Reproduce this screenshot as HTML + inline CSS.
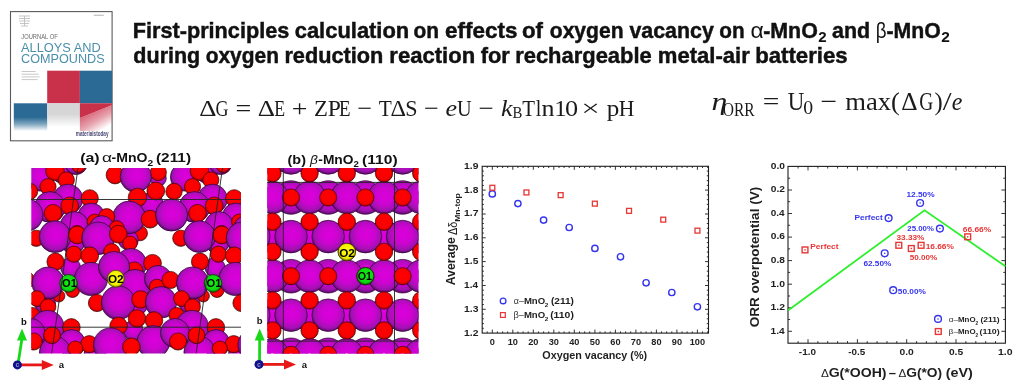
<!DOCTYPE html><html><head><meta charset="utf-8"><style>
html,body{margin:0;padding:0;background:#fff;width:1024px;height:390px;overflow:hidden;position:relative}svg{will-change:transform}
.t{position:absolute;font-family:"Liberation Sans",sans-serif;font-weight:bold;color:#111;white-space:nowrap}
.eq{position:absolute;font-family:"Liberation Serif",serif;color:#222;white-space:nowrap}
</style></head><body>
<svg style="position:absolute;left:0;top:0" width="130" height="150" viewBox="0 0 130 150">
<defs>
<linearGradient id="cvb" x1="0" y1="103.3" x2="0" y2="131" gradientUnits="userSpaceOnUse"><stop offset="0" stop-color="#2a6a94"/><stop offset="0.5" stop-color="#2a6a94"/><stop offset="0.75" stop-color="#2a6a94" stop-opacity="0.6"/><stop offset="1" stop-color="#2a6a94" stop-opacity="0"/></linearGradient>
<linearGradient id="cvg" x1="0" y1="103.3" x2="0" y2="127" gradientUnits="userSpaceOnUse"><stop offset="0" stop-color="#d6d6d6"/><stop offset="0.45" stop-color="#d6d6d6"/><stop offset="1" stop-color="#d6d6d6" stop-opacity="0"/></linearGradient>
<linearGradient id="cvr" x1="93" y1="110" x2="104" y2="129" gradientUnits="userSpaceOnUse"><stop offset="0" stop-color="#c9304a" stop-opacity="0.75"/><stop offset="0.5" stop-color="#c9304a" stop-opacity="0.45"/><stop offset="1" stop-color="#c9304a" stop-opacity="0"/></linearGradient>
</defs>
<rect x="10.5" y="11.6" width="101.6" height="129.2" fill="#fff" stroke="#5a5a5a" stroke-width="1.1"/>
<g stroke="#b8b8b8" stroke-width="0.8" fill="none"><path d="M19 16h11M19 18.5h11M19 21h11M20 23.5h9M21 26h7"/><path d="M24.5 16v10"/></g>
<rect x="93.8" y="14.6" width="10" height="1.4" fill="#c8c8c8"/>
<text x="21.3" y="39.2" font-family="Liberation Sans" font-size="6.3" fill="#6a6a6a" textLength="36.4" lengthAdjust="spacingAndGlyphs">JOURNAL OF</text>
<text x="21.0" y="51.5" font-family="Liberation Sans" font-size="13.7" fill="#4b90ab" textLength="79.8" lengthAdjust="spacingAndGlyphs">ALLOYS AND</text>
<text x="21.0" y="63.1" font-family="Liberation Sans" font-size="13.0" fill="#4b90ab" textLength="83.6" lengthAdjust="spacingAndGlyphs">COMPOUNDS</text>
<g fill="#c8c8c8"><rect x="21.6" y="71" width="14" height="1"/><rect x="21.6" y="73.7" width="17" height="1"/><rect x="21.6" y="76.4" width="18" height="1"/><rect x="21.6" y="79.1" width="16" height="1"/></g>
<rect x="47.2" y="70.7" width="32.7" height="32.6" fill="#c9304a"/>
<rect x="79.9" y="70.7" width="32.2" height="32.6" fill="#2a6a94"/>
<rect x="13.8" y="103.3" width="33.4" height="30.5" fill="url(#cvb)"/>
<rect x="47.2" y="103.3" width="32.7" height="28" fill="url(#cvg)"/>
<polygon points="79.9,103.3 112.1,103.3 112.1,105 79.9,118" fill="#c9304a"/>
<polygon points="79.9,118 112.1,105 112.1,131 79.9,131" fill="url(#cvr)"/>
<text x="75.8" y="136.3" font-family="Liberation Sans" font-weight="bold" font-size="7.2" fill="#4a4a74" textLength="32.7" lengthAdjust="spacingAndGlyphs">materialstoday</text>
</svg>
<svg style="position:absolute;left:0;top:0" width="1024" height="390" viewBox="0 0 1024 390">
<defs>
<radialGradient id="gP" cx="0.52" cy="0.45" r="0.55"><stop offset="0" stop-color="#dc00dc"/><stop offset="0.5" stop-color="#cc04d0"/><stop offset="0.82" stop-color="#a012b0"/><stop offset="1" stop-color="#5c0a6c"/></radialGradient>
<radialGradient id="gR" cx="0.5" cy="0.45" r="0.55"><stop offset="0" stop-color="#ff0000"/><stop offset="0.7" stop-color="#fa0000"/><stop offset="0.9" stop-color="#d40000"/><stop offset="1" stop-color="#820000"/></radialGradient>
<radialGradient id="gG" cx="0.5" cy="0.45" r="0.55"><stop offset="0" stop-color="#10f010"/><stop offset="0.75" stop-color="#10d810"/><stop offset="1" stop-color="#086008"/></radialGradient>
<radialGradient id="gY" cx="0.5" cy="0.45" r="0.55"><stop offset="0" stop-color="#ffff10"/><stop offset="0.75" stop-color="#f0f000"/><stop offset="1" stop-color="#707000"/></radialGradient>
</defs>
<clipPath id="ca"><rect x="31.3" y="168" width="209.7" height="185.6"/></clipPath>
<g clip-path="url(#ca)">
<g transform="translate(0,0)">
<circle cx="95.0" cy="354.0" r="11" fill="url(#gP)" stroke="#300030" stroke-width="0.7"/>
<circle cx="62.0" cy="172.0" r="11" fill="url(#gP)" stroke="#300030" stroke-width="0.7"/>
<circle cx="76.0" cy="163.0" r="11.5" fill="url(#gP)" stroke="#300030" stroke-width="0.7"/>
<circle cx="158.3" cy="178.3" r="8" fill="url(#gP)" stroke="#300030" stroke-width="0.7"/>
<circle cx="151.5" cy="204.4" r="12" fill="url(#gP)" stroke="#300030" stroke-width="0.7"/>
<circle cx="73.0" cy="241.7" r="12" fill="url(#gP)" stroke="#300030" stroke-width="0.7"/>
<circle cx="140.0" cy="233.3" r="7.5" fill="url(#gR)" stroke="#400000" stroke-width="0.7"/>
<circle cx="128.3" cy="240.0" r="10" fill="url(#gP)" stroke="#300030" stroke-width="0.7"/>
<circle cx="70.5" cy="267.5" r="10" fill="url(#gP)" stroke="#300030" stroke-width="0.7"/>
<circle cx="45.0" cy="303.0" r="10.5" fill="url(#gP)" stroke="#300030" stroke-width="0.7"/>
<circle cx="58.9" cy="296.0" r="6" fill="url(#gR)" stroke="#400000" stroke-width="0.7"/>
<circle cx="72.5" cy="290.5" r="7" fill="url(#gR)" stroke="#400000" stroke-width="0.7"/>
<circle cx="137.0" cy="304.0" r="11" fill="url(#gP)" stroke="#300030" stroke-width="0.7"/>
<circle cx="133.2" cy="330.5" r="10" fill="url(#gP)" stroke="#300030" stroke-width="0.7"/>
<circle cx="40.0" cy="177.0" r="14.1" fill="url(#gP)" stroke="#300030" stroke-width="0.7"/>
<circle cx="55.0" cy="171.0" r="9.4" fill="url(#gR)" stroke="#400000" stroke-width="0.7"/>
<circle cx="66.3" cy="180.0" r="8.1" fill="url(#gR)" stroke="#400000" stroke-width="0.7"/>
<circle cx="78.5" cy="166.0" r="6.6" fill="url(#gR)" stroke="#400000" stroke-width="0.7"/>
<circle cx="48.0" cy="186.7" r="8.1" fill="url(#gR)" stroke="#400000" stroke-width="0.7"/>
<circle cx="29.5" cy="191.5" r="8.2" fill="url(#gR)" stroke="#400000" stroke-width="0.7"/>
<circle cx="68.0" cy="199.0" r="14.799999999999999" fill="url(#gP)" stroke="#300030" stroke-width="0.7"/>
<circle cx="50.0" cy="207.0" r="15.4" fill="url(#gP)" stroke="#300030" stroke-width="0.7"/>
<circle cx="69.7" cy="205.8" r="8.9" fill="url(#gR)" stroke="#400000" stroke-width="0.7"/>
<circle cx="89.7" cy="198.3" r="8.6" fill="url(#gR)" stroke="#400000" stroke-width="0.7"/>
<circle cx="53.0" cy="213.3" r="8.9" fill="url(#gR)" stroke="#400000" stroke-width="0.7"/>
<circle cx="27.0" cy="215.0" r="16.1" fill="url(#gP)" stroke="#300030" stroke-width="0.7"/>
<circle cx="91.3" cy="216.7" r="13.6" fill="url(#gP)" stroke="#300030" stroke-width="0.7"/>
<circle cx="74.5" cy="226.0" r="14.4" fill="url(#gP)" stroke="#300030" stroke-width="0.7"/>
<circle cx="94.7" cy="221.7" r="7.6" fill="url(#gR)" stroke="#400000" stroke-width="0.7"/>
<circle cx="77.0" cy="233.0" r="7.6" fill="url(#gR)" stroke="#400000" stroke-width="0.7"/>
<circle cx="115.0" cy="175.0" r="8.9" fill="url(#gR)" stroke="#400000" stroke-width="0.7"/>
<circle cx="158.3" cy="172.5" r="8.1" fill="url(#gR)" stroke="#400000" stroke-width="0.7"/>
<circle cx="135.8" cy="176.7" r="15.6" fill="url(#gP)" stroke="#300030" stroke-width="0.7"/>
<circle cx="155.8" cy="191.0" r="8.9" fill="url(#gR)" stroke="#400000" stroke-width="0.7"/>
<circle cx="137.5" cy="197.5" r="9.299999999999999" fill="url(#gR)" stroke="#400000" stroke-width="0.7"/>
<circle cx="129.0" cy="217.5" r="16.400000000000002" fill="url(#gP)" stroke="#300030" stroke-width="0.7"/>
<circle cx="106.7" cy="216.7" r="8.1" fill="url(#gR)" stroke="#400000" stroke-width="0.7"/>
<circle cx="150.0" cy="219.2" r="8.9" fill="url(#gR)" stroke="#400000" stroke-width="0.7"/>
<circle cx="101.7" cy="228.3" r="12.6" fill="url(#gP)" stroke="#300030" stroke-width="0.7"/>
<circle cx="116.7" cy="228.3" r="7.6" fill="url(#gR)" stroke="#400000" stroke-width="0.7"/>
<circle cx="36.3" cy="238.3" r="8.1" fill="url(#gR)" stroke="#400000" stroke-width="0.7"/>
<circle cx="55.0" cy="236.7" r="15.9" fill="url(#gP)" stroke="#300030" stroke-width="0.7"/>
<circle cx="77.2" cy="235.0" r="8.9" fill="url(#gR)" stroke="#400000" stroke-width="0.7"/>
<circle cx="98.0" cy="238.3" r="16.400000000000002" fill="url(#gP)" stroke="#300030" stroke-width="0.7"/>
<circle cx="73.8" cy="254.2" r="8.1" fill="url(#gR)" stroke="#400000" stroke-width="0.7"/>
<circle cx="89.7" cy="255.8" r="8.9" fill="url(#gR)" stroke="#400000" stroke-width="0.7"/>
<circle cx="55.5" cy="261.7" r="8.6" fill="url(#gR)" stroke="#400000" stroke-width="0.7"/>
<circle cx="26.0" cy="280.0" r="8.6" fill="url(#gR)" stroke="#400000" stroke-width="0.7"/>
<circle cx="48.0" cy="283.0" r="16.1" fill="url(#gP)" stroke="#300030" stroke-width="0.7"/>
<circle cx="91.0" cy="279.0" r="16.6" fill="url(#gP)" stroke="#300030" stroke-width="0.7"/>
<circle cx="118.3" cy="234.2" r="8.9" fill="url(#gR)" stroke="#400000" stroke-width="0.7"/>
<circle cx="130.0" cy="243.3" r="7.3" fill="url(#gR)" stroke="#400000" stroke-width="0.7"/>
<circle cx="111.7" cy="251.7" r="8.1" fill="url(#gR)" stroke="#400000" stroke-width="0.7"/>
<circle cx="131.0" cy="264.0" r="15.6" fill="url(#gP)" stroke="#300030" stroke-width="0.7"/>
<circle cx="152.5" cy="263.3" r="8.9" fill="url(#gR)" stroke="#400000" stroke-width="0.7"/>
<circle cx="134.2" cy="270.8" r="8.9" fill="url(#gR)" stroke="#400000" stroke-width="0.7"/>
<circle cx="114.0" cy="267.0" r="15.6" fill="url(#gP)" stroke="#300030" stroke-width="0.7"/>
<circle cx="135.0" cy="285.0" r="15.6" fill="url(#gP)" stroke="#300030" stroke-width="0.7"/>
<circle cx="158.0" cy="279.0" r="13.6" fill="url(#gP)" stroke="#300030" stroke-width="0.7"/>
<circle cx="37.0" cy="298.6" r="7.8999999999999995" fill="url(#gR)" stroke="#400000" stroke-width="0.7"/>
<circle cx="48.0" cy="306.8" r="7.8999999999999995" fill="url(#gR)" stroke="#400000" stroke-width="0.7"/>
<circle cx="97.0" cy="303.0" r="8.6" fill="url(#gR)" stroke="#400000" stroke-width="0.7"/>
<circle cx="32.0" cy="315.0" r="7.6" fill="url(#gR)" stroke="#400000" stroke-width="0.7"/>
<circle cx="47.5" cy="327.0" r="16.6" fill="url(#gP)" stroke="#300030" stroke-width="0.7"/>
<circle cx="71.4" cy="327.4" r="8.799999999999999" fill="url(#gR)" stroke="#400000" stroke-width="0.7"/>
<circle cx="30.5" cy="333.0" r="14.6" fill="url(#gP)" stroke="#300030" stroke-width="0.7"/>
<circle cx="71.6" cy="343.2" r="13.6" fill="url(#gP)" stroke="#300030" stroke-width="0.7"/>
<circle cx="55.0" cy="352.0" r="15.6" fill="url(#gP)" stroke="#300030" stroke-width="0.7"/>
<circle cx="52.0" cy="335.3" r="8.4" fill="url(#gR)" stroke="#400000" stroke-width="0.7"/>
<circle cx="33.5" cy="341.5" r="8.6" fill="url(#gR)" stroke="#400000" stroke-width="0.7"/>
<circle cx="89.2" cy="344.2" r="8.6" fill="url(#gR)" stroke="#400000" stroke-width="0.7"/>
<circle cx="75.3" cy="348.6" r="7.6" fill="url(#gR)" stroke="#400000" stroke-width="0.7"/>
<circle cx="118.2" cy="302.7" r="16.900000000000002" fill="url(#gP)" stroke="#300030" stroke-width="0.7"/>
<circle cx="140.5" cy="299.5" r="8.799999999999999" fill="url(#gR)" stroke="#400000" stroke-width="0.7"/>
<circle cx="156.8" cy="286.8" r="7.6" fill="url(#gR)" stroke="#400000" stroke-width="0.7"/>
<circle cx="161.0" cy="302.3" r="15.799999999999999" fill="url(#gP)" stroke="#300030" stroke-width="0.7"/>
<circle cx="137.0" cy="318.5" r="8.799999999999999" fill="url(#gR)" stroke="#400000" stroke-width="0.7"/>
<circle cx="154.0" cy="320.5" r="8.799999999999999" fill="url(#gR)" stroke="#400000" stroke-width="0.7"/>
<circle cx="118.6" cy="325.9" r="8.799999999999999" fill="url(#gR)" stroke="#400000" stroke-width="0.7"/>
<circle cx="110.5" cy="345.0" r="17.1" fill="url(#gP)" stroke="#300030" stroke-width="0.7"/>
<circle cx="153.3" cy="342.0" r="16.400000000000002" fill="url(#gP)" stroke="#300030" stroke-width="0.7"/>
<circle cx="131.4" cy="346.8" r="8.799999999999999" fill="url(#gR)" stroke="#400000" stroke-width="0.7"/>
<circle cx="68.5" cy="283.4" r="8.8" fill="url(#gG)" stroke="#043004" stroke-width="0.7"/>
<circle cx="115.8" cy="278.8" r="8.5" fill="url(#gY)" stroke="#404000" stroke-width="0.7"/>
</g>
<g transform="translate(144.5,0)">
<circle cx="95.0" cy="354.0" r="11" fill="url(#gP)" stroke="#300030" stroke-width="0.7"/>
<circle cx="62.0" cy="172.0" r="11" fill="url(#gP)" stroke="#300030" stroke-width="0.7"/>
<circle cx="76.0" cy="163.0" r="11.5" fill="url(#gP)" stroke="#300030" stroke-width="0.7"/>
<circle cx="158.3" cy="178.3" r="8" fill="url(#gP)" stroke="#300030" stroke-width="0.7"/>
<circle cx="151.5" cy="204.4" r="12" fill="url(#gP)" stroke="#300030" stroke-width="0.7"/>
<circle cx="73.0" cy="241.7" r="12" fill="url(#gP)" stroke="#300030" stroke-width="0.7"/>
<circle cx="140.0" cy="233.3" r="7.5" fill="url(#gR)" stroke="#400000" stroke-width="0.7"/>
<circle cx="128.3" cy="240.0" r="10" fill="url(#gP)" stroke="#300030" stroke-width="0.7"/>
<circle cx="70.5" cy="267.5" r="10" fill="url(#gP)" stroke="#300030" stroke-width="0.7"/>
<circle cx="45.0" cy="303.0" r="10.5" fill="url(#gP)" stroke="#300030" stroke-width="0.7"/>
<circle cx="58.9" cy="296.0" r="6" fill="url(#gR)" stroke="#400000" stroke-width="0.7"/>
<circle cx="72.5" cy="290.5" r="7" fill="url(#gR)" stroke="#400000" stroke-width="0.7"/>
<circle cx="137.0" cy="304.0" r="11" fill="url(#gP)" stroke="#300030" stroke-width="0.7"/>
<circle cx="133.2" cy="330.5" r="10" fill="url(#gP)" stroke="#300030" stroke-width="0.7"/>
<circle cx="40.0" cy="177.0" r="14.1" fill="url(#gP)" stroke="#300030" stroke-width="0.7"/>
<circle cx="55.0" cy="171.0" r="9.4" fill="url(#gR)" stroke="#400000" stroke-width="0.7"/>
<circle cx="66.3" cy="180.0" r="8.1" fill="url(#gR)" stroke="#400000" stroke-width="0.7"/>
<circle cx="78.5" cy="166.0" r="6.6" fill="url(#gR)" stroke="#400000" stroke-width="0.7"/>
<circle cx="48.0" cy="186.7" r="8.1" fill="url(#gR)" stroke="#400000" stroke-width="0.7"/>
<circle cx="29.5" cy="191.5" r="8.2" fill="url(#gR)" stroke="#400000" stroke-width="0.7"/>
<circle cx="68.0" cy="199.0" r="14.799999999999999" fill="url(#gP)" stroke="#300030" stroke-width="0.7"/>
<circle cx="50.0" cy="207.0" r="15.4" fill="url(#gP)" stroke="#300030" stroke-width="0.7"/>
<circle cx="69.7" cy="205.8" r="8.9" fill="url(#gR)" stroke="#400000" stroke-width="0.7"/>
<circle cx="89.7" cy="198.3" r="8.6" fill="url(#gR)" stroke="#400000" stroke-width="0.7"/>
<circle cx="53.0" cy="213.3" r="8.9" fill="url(#gR)" stroke="#400000" stroke-width="0.7"/>
<circle cx="27.0" cy="215.0" r="16.1" fill="url(#gP)" stroke="#300030" stroke-width="0.7"/>
<circle cx="91.3" cy="216.7" r="13.6" fill="url(#gP)" stroke="#300030" stroke-width="0.7"/>
<circle cx="74.5" cy="226.0" r="14.4" fill="url(#gP)" stroke="#300030" stroke-width="0.7"/>
<circle cx="94.7" cy="221.7" r="7.6" fill="url(#gR)" stroke="#400000" stroke-width="0.7"/>
<circle cx="77.0" cy="233.0" r="7.6" fill="url(#gR)" stroke="#400000" stroke-width="0.7"/>
<circle cx="115.0" cy="175.0" r="8.9" fill="url(#gR)" stroke="#400000" stroke-width="0.7"/>
<circle cx="158.3" cy="172.5" r="8.1" fill="url(#gR)" stroke="#400000" stroke-width="0.7"/>
<circle cx="135.8" cy="176.7" r="15.6" fill="url(#gP)" stroke="#300030" stroke-width="0.7"/>
<circle cx="155.8" cy="191.0" r="8.9" fill="url(#gR)" stroke="#400000" stroke-width="0.7"/>
<circle cx="137.5" cy="197.5" r="9.299999999999999" fill="url(#gR)" stroke="#400000" stroke-width="0.7"/>
<circle cx="129.0" cy="217.5" r="16.400000000000002" fill="url(#gP)" stroke="#300030" stroke-width="0.7"/>
<circle cx="106.7" cy="216.7" r="8.1" fill="url(#gR)" stroke="#400000" stroke-width="0.7"/>
<circle cx="150.0" cy="219.2" r="8.9" fill="url(#gR)" stroke="#400000" stroke-width="0.7"/>
<circle cx="101.7" cy="228.3" r="12.6" fill="url(#gP)" stroke="#300030" stroke-width="0.7"/>
<circle cx="116.7" cy="228.3" r="7.6" fill="url(#gR)" stroke="#400000" stroke-width="0.7"/>
<circle cx="36.3" cy="238.3" r="8.1" fill="url(#gR)" stroke="#400000" stroke-width="0.7"/>
<circle cx="55.0" cy="236.7" r="15.9" fill="url(#gP)" stroke="#300030" stroke-width="0.7"/>
<circle cx="77.2" cy="235.0" r="8.9" fill="url(#gR)" stroke="#400000" stroke-width="0.7"/>
<circle cx="98.0" cy="238.3" r="16.400000000000002" fill="url(#gP)" stroke="#300030" stroke-width="0.7"/>
<circle cx="73.8" cy="254.2" r="8.1" fill="url(#gR)" stroke="#400000" stroke-width="0.7"/>
<circle cx="89.7" cy="255.8" r="8.9" fill="url(#gR)" stroke="#400000" stroke-width="0.7"/>
<circle cx="55.5" cy="261.7" r="8.6" fill="url(#gR)" stroke="#400000" stroke-width="0.7"/>
<circle cx="26.0" cy="280.0" r="8.6" fill="url(#gR)" stroke="#400000" stroke-width="0.7"/>
<circle cx="48.0" cy="283.0" r="16.1" fill="url(#gP)" stroke="#300030" stroke-width="0.7"/>
<circle cx="91.0" cy="279.0" r="16.6" fill="url(#gP)" stroke="#300030" stroke-width="0.7"/>
<circle cx="118.3" cy="234.2" r="8.9" fill="url(#gR)" stroke="#400000" stroke-width="0.7"/>
<circle cx="130.0" cy="243.3" r="7.3" fill="url(#gR)" stroke="#400000" stroke-width="0.7"/>
<circle cx="111.7" cy="251.7" r="8.1" fill="url(#gR)" stroke="#400000" stroke-width="0.7"/>
<circle cx="131.0" cy="264.0" r="15.6" fill="url(#gP)" stroke="#300030" stroke-width="0.7"/>
<circle cx="152.5" cy="263.3" r="8.9" fill="url(#gR)" stroke="#400000" stroke-width="0.7"/>
<circle cx="134.2" cy="270.8" r="8.9" fill="url(#gR)" stroke="#400000" stroke-width="0.7"/>
<circle cx="114.0" cy="267.0" r="15.6" fill="url(#gP)" stroke="#300030" stroke-width="0.7"/>
<circle cx="135.0" cy="285.0" r="15.6" fill="url(#gP)" stroke="#300030" stroke-width="0.7"/>
<circle cx="158.0" cy="279.0" r="13.6" fill="url(#gP)" stroke="#300030" stroke-width="0.7"/>
<circle cx="37.0" cy="298.6" r="7.8999999999999995" fill="url(#gR)" stroke="#400000" stroke-width="0.7"/>
<circle cx="48.0" cy="306.8" r="7.8999999999999995" fill="url(#gR)" stroke="#400000" stroke-width="0.7"/>
<circle cx="97.0" cy="303.0" r="8.6" fill="url(#gR)" stroke="#400000" stroke-width="0.7"/>
<circle cx="32.0" cy="315.0" r="7.6" fill="url(#gR)" stroke="#400000" stroke-width="0.7"/>
<circle cx="47.5" cy="327.0" r="16.6" fill="url(#gP)" stroke="#300030" stroke-width="0.7"/>
<circle cx="71.4" cy="327.4" r="8.799999999999999" fill="url(#gR)" stroke="#400000" stroke-width="0.7"/>
<circle cx="30.5" cy="333.0" r="14.6" fill="url(#gP)" stroke="#300030" stroke-width="0.7"/>
<circle cx="71.6" cy="343.2" r="13.6" fill="url(#gP)" stroke="#300030" stroke-width="0.7"/>
<circle cx="55.0" cy="352.0" r="15.6" fill="url(#gP)" stroke="#300030" stroke-width="0.7"/>
<circle cx="52.0" cy="335.3" r="8.4" fill="url(#gR)" stroke="#400000" stroke-width="0.7"/>
<circle cx="33.5" cy="341.5" r="8.6" fill="url(#gR)" stroke="#400000" stroke-width="0.7"/>
<circle cx="89.2" cy="344.2" r="8.6" fill="url(#gR)" stroke="#400000" stroke-width="0.7"/>
<circle cx="75.3" cy="348.6" r="7.6" fill="url(#gR)" stroke="#400000" stroke-width="0.7"/>
<circle cx="118.2" cy="302.7" r="16.900000000000002" fill="url(#gP)" stroke="#300030" stroke-width="0.7"/>
<circle cx="140.5" cy="299.5" r="8.799999999999999" fill="url(#gR)" stroke="#400000" stroke-width="0.7"/>
<circle cx="156.8" cy="286.8" r="7.6" fill="url(#gR)" stroke="#400000" stroke-width="0.7"/>
<circle cx="161.0" cy="302.3" r="15.799999999999999" fill="url(#gP)" stroke="#300030" stroke-width="0.7"/>
<circle cx="137.0" cy="318.5" r="8.799999999999999" fill="url(#gR)" stroke="#400000" stroke-width="0.7"/>
<circle cx="154.0" cy="320.5" r="8.799999999999999" fill="url(#gR)" stroke="#400000" stroke-width="0.7"/>
<circle cx="118.6" cy="325.9" r="8.799999999999999" fill="url(#gR)" stroke="#400000" stroke-width="0.7"/>
<circle cx="110.5" cy="345.0" r="17.1" fill="url(#gP)" stroke="#300030" stroke-width="0.7"/>
<circle cx="153.3" cy="342.0" r="16.400000000000002" fill="url(#gP)" stroke="#300030" stroke-width="0.7"/>
<circle cx="131.4" cy="346.8" r="8.799999999999999" fill="url(#gR)" stroke="#400000" stroke-width="0.7"/>
<circle cx="68.5" cy="283.4" r="8.8" fill="url(#gG)" stroke="#043004" stroke-width="0.7"/>
<circle cx="115.8" cy="278.8" r="8.5" fill="url(#gY)" stroke="#404000" stroke-width="0.7"/>
</g>
<g stroke="#222" stroke-width="0.9">
<line x1="31" y1="199.5" x2="241" y2="199.5"/><line x1="31" y1="327.2" x2="241" y2="327.2"/>
<line x1="78" y1="168" x2="51.6" y2="353.7"/>
<line x1="222.5" y1="168" x2="196.1" y2="353.7"/>
</g></g>
</svg>
<svg style="position:absolute;left:0;top:0" width="1024" height="390" viewBox="0 0 1024 390">
<clipPath id="cb"><rect x="267.3" y="168" width="151.2" height="185.6"/></clipPath>
<g clip-path="url(#cb)">
<rect x="267.3" y="168" width="151.2" height="185.6" fill="#fff"/>
<circle cx="235.2" cy="158.0" r="16.3" fill="url(#gP)" stroke="#300030" stroke-width="0.7"/>
<circle cx="272.4" cy="158.0" r="16.3" fill="url(#gP)" stroke="#300030" stroke-width="0.7"/>
<circle cx="309.6" cy="158.0" r="16.3" fill="url(#gP)" stroke="#300030" stroke-width="0.7"/>
<circle cx="346.8" cy="158.0" r="16.3" fill="url(#gP)" stroke="#300030" stroke-width="0.7"/>
<circle cx="384.0" cy="158.0" r="16.3" fill="url(#gP)" stroke="#300030" stroke-width="0.7"/>
<circle cx="421.2" cy="158.0" r="16.3" fill="url(#gP)" stroke="#300030" stroke-width="0.7"/>
<circle cx="458.4" cy="158.0" r="16.3" fill="url(#gP)" stroke="#300030" stroke-width="0.7"/>
<circle cx="235.2" cy="236.6" r="16.3" fill="url(#gP)" stroke="#300030" stroke-width="0.7"/>
<circle cx="272.4" cy="236.6" r="16.3" fill="url(#gP)" stroke="#300030" stroke-width="0.7"/>
<circle cx="309.6" cy="236.6" r="16.3" fill="url(#gP)" stroke="#300030" stroke-width="0.7"/>
<circle cx="346.8" cy="236.6" r="16.3" fill="url(#gP)" stroke="#300030" stroke-width="0.7"/>
<circle cx="384.0" cy="236.6" r="16.3" fill="url(#gP)" stroke="#300030" stroke-width="0.7"/>
<circle cx="421.2" cy="236.6" r="16.3" fill="url(#gP)" stroke="#300030" stroke-width="0.7"/>
<circle cx="458.4" cy="236.6" r="16.3" fill="url(#gP)" stroke="#300030" stroke-width="0.7"/>
<circle cx="235.2" cy="315.2" r="16.3" fill="url(#gP)" stroke="#300030" stroke-width="0.7"/>
<circle cx="272.4" cy="315.2" r="16.3" fill="url(#gP)" stroke="#300030" stroke-width="0.7"/>
<circle cx="309.6" cy="315.2" r="16.3" fill="url(#gP)" stroke="#300030" stroke-width="0.7"/>
<circle cx="346.8" cy="315.2" r="16.3" fill="url(#gP)" stroke="#300030" stroke-width="0.7"/>
<circle cx="384.0" cy="315.2" r="16.3" fill="url(#gP)" stroke="#300030" stroke-width="0.7"/>
<circle cx="421.2" cy="315.2" r="16.3" fill="url(#gP)" stroke="#300030" stroke-width="0.7"/>
<circle cx="458.4" cy="315.2" r="16.3" fill="url(#gP)" stroke="#300030" stroke-width="0.7"/>
<circle cx="235.2" cy="393.8" r="16.3" fill="url(#gP)" stroke="#300030" stroke-width="0.7"/>
<circle cx="272.4" cy="393.8" r="16.3" fill="url(#gP)" stroke="#300030" stroke-width="0.7"/>
<circle cx="309.6" cy="393.8" r="16.3" fill="url(#gP)" stroke="#300030" stroke-width="0.7"/>
<circle cx="346.8" cy="393.8" r="16.3" fill="url(#gP)" stroke="#300030" stroke-width="0.7"/>
<circle cx="384.0" cy="393.8" r="16.3" fill="url(#gP)" stroke="#300030" stroke-width="0.7"/>
<circle cx="421.2" cy="393.8" r="16.3" fill="url(#gP)" stroke="#300030" stroke-width="0.7"/>
<circle cx="458.4" cy="393.8" r="16.3" fill="url(#gP)" stroke="#300030" stroke-width="0.7"/>
<circle cx="253.8" cy="118.9" r="16.8" fill="url(#gP)" stroke="#300030" stroke-width="0.7"/>
<circle cx="291.0" cy="118.9" r="16.8" fill="url(#gP)" stroke="#300030" stroke-width="0.7"/>
<circle cx="328.2" cy="118.9" r="16.8" fill="url(#gP)" stroke="#300030" stroke-width="0.7"/>
<circle cx="365.4" cy="118.9" r="16.8" fill="url(#gP)" stroke="#300030" stroke-width="0.7"/>
<circle cx="402.6" cy="118.9" r="16.8" fill="url(#gP)" stroke="#300030" stroke-width="0.7"/>
<circle cx="439.8" cy="118.9" r="16.8" fill="url(#gP)" stroke="#300030" stroke-width="0.7"/>
<circle cx="477.0" cy="118.9" r="16.8" fill="url(#gP)" stroke="#300030" stroke-width="0.7"/>
<circle cx="253.8" cy="197.5" r="16.8" fill="url(#gP)" stroke="#300030" stroke-width="0.7"/>
<circle cx="291.0" cy="197.5" r="16.8" fill="url(#gP)" stroke="#300030" stroke-width="0.7"/>
<circle cx="328.2" cy="197.5" r="16.8" fill="url(#gP)" stroke="#300030" stroke-width="0.7"/>
<circle cx="365.4" cy="197.5" r="16.8" fill="url(#gP)" stroke="#300030" stroke-width="0.7"/>
<circle cx="402.6" cy="197.5" r="16.8" fill="url(#gP)" stroke="#300030" stroke-width="0.7"/>
<circle cx="439.8" cy="197.5" r="16.8" fill="url(#gP)" stroke="#300030" stroke-width="0.7"/>
<circle cx="477.0" cy="197.5" r="16.8" fill="url(#gP)" stroke="#300030" stroke-width="0.7"/>
<circle cx="253.8" cy="276.2" r="16.8" fill="url(#gP)" stroke="#300030" stroke-width="0.7"/>
<circle cx="291.0" cy="276.2" r="16.8" fill="url(#gP)" stroke="#300030" stroke-width="0.7"/>
<circle cx="328.2" cy="276.2" r="16.8" fill="url(#gP)" stroke="#300030" stroke-width="0.7"/>
<circle cx="365.4" cy="276.2" r="16.8" fill="url(#gP)" stroke="#300030" stroke-width="0.7"/>
<circle cx="402.6" cy="276.2" r="16.8" fill="url(#gP)" stroke="#300030" stroke-width="0.7"/>
<circle cx="439.8" cy="276.2" r="16.8" fill="url(#gP)" stroke="#300030" stroke-width="0.7"/>
<circle cx="477.0" cy="276.2" r="16.8" fill="url(#gP)" stroke="#300030" stroke-width="0.7"/>
<circle cx="253.8" cy="354.8" r="16.8" fill="url(#gP)" stroke="#300030" stroke-width="0.7"/>
<circle cx="291.0" cy="354.8" r="16.8" fill="url(#gP)" stroke="#300030" stroke-width="0.7"/>
<circle cx="328.2" cy="354.8" r="16.8" fill="url(#gP)" stroke="#300030" stroke-width="0.7"/>
<circle cx="365.4" cy="354.8" r="16.8" fill="url(#gP)" stroke="#300030" stroke-width="0.7"/>
<circle cx="402.6" cy="354.8" r="16.8" fill="url(#gP)" stroke="#300030" stroke-width="0.7"/>
<circle cx="439.8" cy="354.8" r="16.8" fill="url(#gP)" stroke="#300030" stroke-width="0.7"/>
<circle cx="477.0" cy="354.8" r="16.8" fill="url(#gP)" stroke="#300030" stroke-width="0.7"/>
<circle cx="253.8" cy="158.0" r="16.3" fill="url(#gP)" stroke="#300030" stroke-width="0.7"/>
<circle cx="291.0" cy="158.0" r="16.3" fill="url(#gP)" stroke="#300030" stroke-width="0.7"/>
<circle cx="328.2" cy="158.0" r="16.3" fill="url(#gP)" stroke="#300030" stroke-width="0.7"/>
<circle cx="365.4" cy="158.0" r="16.3" fill="url(#gP)" stroke="#300030" stroke-width="0.7"/>
<circle cx="402.6" cy="158.0" r="16.3" fill="url(#gP)" stroke="#300030" stroke-width="0.7"/>
<circle cx="439.8" cy="158.0" r="16.3" fill="url(#gP)" stroke="#300030" stroke-width="0.7"/>
<circle cx="477.0" cy="158.0" r="16.3" fill="url(#gP)" stroke="#300030" stroke-width="0.7"/>
<circle cx="253.8" cy="236.6" r="16.3" fill="url(#gP)" stroke="#300030" stroke-width="0.7"/>
<circle cx="291.0" cy="236.6" r="16.3" fill="url(#gP)" stroke="#300030" stroke-width="0.7"/>
<circle cx="328.2" cy="236.6" r="16.3" fill="url(#gP)" stroke="#300030" stroke-width="0.7"/>
<circle cx="365.4" cy="236.6" r="16.3" fill="url(#gP)" stroke="#300030" stroke-width="0.7"/>
<circle cx="402.6" cy="236.6" r="16.3" fill="url(#gP)" stroke="#300030" stroke-width="0.7"/>
<circle cx="439.8" cy="236.6" r="16.3" fill="url(#gP)" stroke="#300030" stroke-width="0.7"/>
<circle cx="477.0" cy="236.6" r="16.3" fill="url(#gP)" stroke="#300030" stroke-width="0.7"/>
<circle cx="253.8" cy="315.2" r="16.3" fill="url(#gP)" stroke="#300030" stroke-width="0.7"/>
<circle cx="291.0" cy="315.2" r="16.3" fill="url(#gP)" stroke="#300030" stroke-width="0.7"/>
<circle cx="328.2" cy="315.2" r="16.3" fill="url(#gP)" stroke="#300030" stroke-width="0.7"/>
<circle cx="365.4" cy="315.2" r="16.3" fill="url(#gP)" stroke="#300030" stroke-width="0.7"/>
<circle cx="402.6" cy="315.2" r="16.3" fill="url(#gP)" stroke="#300030" stroke-width="0.7"/>
<circle cx="439.8" cy="315.2" r="16.3" fill="url(#gP)" stroke="#300030" stroke-width="0.7"/>
<circle cx="477.0" cy="315.2" r="16.3" fill="url(#gP)" stroke="#300030" stroke-width="0.7"/>
<circle cx="253.8" cy="393.8" r="16.3" fill="url(#gP)" stroke="#300030" stroke-width="0.7"/>
<circle cx="291.0" cy="393.8" r="16.3" fill="url(#gP)" stroke="#300030" stroke-width="0.7"/>
<circle cx="328.2" cy="393.8" r="16.3" fill="url(#gP)" stroke="#300030" stroke-width="0.7"/>
<circle cx="365.4" cy="393.8" r="16.3" fill="url(#gP)" stroke="#300030" stroke-width="0.7"/>
<circle cx="402.6" cy="393.8" r="16.3" fill="url(#gP)" stroke="#300030" stroke-width="0.7"/>
<circle cx="439.8" cy="393.8" r="16.3" fill="url(#gP)" stroke="#300030" stroke-width="0.7"/>
<circle cx="477.0" cy="393.8" r="16.3" fill="url(#gP)" stroke="#300030" stroke-width="0.7"/>
<circle cx="235.2" cy="118.9" r="16.3" fill="url(#gP)" stroke="#300030" stroke-width="0.7"/>
<circle cx="272.4" cy="118.9" r="16.3" fill="url(#gP)" stroke="#300030" stroke-width="0.7"/>
<circle cx="309.6" cy="118.9" r="16.3" fill="url(#gP)" stroke="#300030" stroke-width="0.7"/>
<circle cx="346.8" cy="118.9" r="16.3" fill="url(#gP)" stroke="#300030" stroke-width="0.7"/>
<circle cx="384.0" cy="118.9" r="16.3" fill="url(#gP)" stroke="#300030" stroke-width="0.7"/>
<circle cx="421.2" cy="118.9" r="16.3" fill="url(#gP)" stroke="#300030" stroke-width="0.7"/>
<circle cx="458.4" cy="118.9" r="16.3" fill="url(#gP)" stroke="#300030" stroke-width="0.7"/>
<circle cx="235.2" cy="197.5" r="16.3" fill="url(#gP)" stroke="#300030" stroke-width="0.7"/>
<circle cx="272.4" cy="197.5" r="16.3" fill="url(#gP)" stroke="#300030" stroke-width="0.7"/>
<circle cx="309.6" cy="197.5" r="16.3" fill="url(#gP)" stroke="#300030" stroke-width="0.7"/>
<circle cx="346.8" cy="197.5" r="16.3" fill="url(#gP)" stroke="#300030" stroke-width="0.7"/>
<circle cx="384.0" cy="197.5" r="16.3" fill="url(#gP)" stroke="#300030" stroke-width="0.7"/>
<circle cx="421.2" cy="197.5" r="16.3" fill="url(#gP)" stroke="#300030" stroke-width="0.7"/>
<circle cx="458.4" cy="197.5" r="16.3" fill="url(#gP)" stroke="#300030" stroke-width="0.7"/>
<circle cx="235.2" cy="276.2" r="16.3" fill="url(#gP)" stroke="#300030" stroke-width="0.7"/>
<circle cx="272.4" cy="276.2" r="16.3" fill="url(#gP)" stroke="#300030" stroke-width="0.7"/>
<circle cx="309.6" cy="276.2" r="16.3" fill="url(#gP)" stroke="#300030" stroke-width="0.7"/>
<circle cx="346.8" cy="276.2" r="16.3" fill="url(#gP)" stroke="#300030" stroke-width="0.7"/>
<circle cx="384.0" cy="276.2" r="16.3" fill="url(#gP)" stroke="#300030" stroke-width="0.7"/>
<circle cx="421.2" cy="276.2" r="16.3" fill="url(#gP)" stroke="#300030" stroke-width="0.7"/>
<circle cx="458.4" cy="276.2" r="16.3" fill="url(#gP)" stroke="#300030" stroke-width="0.7"/>
<circle cx="235.2" cy="354.8" r="16.3" fill="url(#gP)" stroke="#300030" stroke-width="0.7"/>
<circle cx="272.4" cy="354.8" r="16.3" fill="url(#gP)" stroke="#300030" stroke-width="0.7"/>
<circle cx="309.6" cy="354.8" r="16.3" fill="url(#gP)" stroke="#300030" stroke-width="0.7"/>
<circle cx="346.8" cy="354.8" r="16.3" fill="url(#gP)" stroke="#300030" stroke-width="0.7"/>
<circle cx="384.0" cy="354.8" r="16.3" fill="url(#gP)" stroke="#300030" stroke-width="0.7"/>
<circle cx="421.2" cy="354.8" r="16.3" fill="url(#gP)" stroke="#300030" stroke-width="0.7"/>
<circle cx="458.4" cy="354.8" r="16.3" fill="url(#gP)" stroke="#300030" stroke-width="0.7"/>
<circle cx="235.2" cy="143.2" r="8.7" fill="url(#gR)" stroke="#400000" stroke-width="0.7"/>
<circle cx="235.2" cy="173.3" r="8.7" fill="url(#gR)" stroke="#400000" stroke-width="0.7"/>
<circle cx="272.4" cy="143.2" r="8.7" fill="url(#gR)" stroke="#400000" stroke-width="0.7"/>
<circle cx="272.4" cy="173.3" r="8.7" fill="url(#gR)" stroke="#400000" stroke-width="0.7"/>
<circle cx="309.6" cy="143.2" r="8.7" fill="url(#gR)" stroke="#400000" stroke-width="0.7"/>
<circle cx="309.6" cy="173.3" r="8.7" fill="url(#gR)" stroke="#400000" stroke-width="0.7"/>
<circle cx="346.8" cy="143.2" r="8.7" fill="url(#gR)" stroke="#400000" stroke-width="0.7"/>
<circle cx="346.8" cy="173.3" r="8.7" fill="url(#gR)" stroke="#400000" stroke-width="0.7"/>
<circle cx="384.0" cy="143.2" r="8.7" fill="url(#gR)" stroke="#400000" stroke-width="0.7"/>
<circle cx="384.0" cy="173.3" r="8.7" fill="url(#gR)" stroke="#400000" stroke-width="0.7"/>
<circle cx="421.2" cy="143.2" r="8.7" fill="url(#gR)" stroke="#400000" stroke-width="0.7"/>
<circle cx="421.2" cy="173.3" r="8.7" fill="url(#gR)" stroke="#400000" stroke-width="0.7"/>
<circle cx="458.4" cy="143.2" r="8.7" fill="url(#gR)" stroke="#400000" stroke-width="0.7"/>
<circle cx="458.4" cy="173.3" r="8.7" fill="url(#gR)" stroke="#400000" stroke-width="0.7"/>
<circle cx="235.2" cy="221.8" r="8.7" fill="url(#gR)" stroke="#400000" stroke-width="0.7"/>
<circle cx="235.2" cy="251.9" r="8.7" fill="url(#gR)" stroke="#400000" stroke-width="0.7"/>
<circle cx="272.4" cy="221.8" r="8.7" fill="url(#gR)" stroke="#400000" stroke-width="0.7"/>
<circle cx="272.4" cy="251.9" r="8.7" fill="url(#gR)" stroke="#400000" stroke-width="0.7"/>
<circle cx="309.6" cy="221.8" r="8.7" fill="url(#gR)" stroke="#400000" stroke-width="0.7"/>
<circle cx="309.6" cy="251.9" r="8.7" fill="url(#gR)" stroke="#400000" stroke-width="0.7"/>
<circle cx="346.8" cy="221.8" r="8.7" fill="url(#gR)" stroke="#400000" stroke-width="0.7"/>
<circle cx="346.8" cy="251.9" r="8.7" fill="url(#gR)" stroke="#400000" stroke-width="0.7"/>
<circle cx="384.0" cy="221.8" r="8.7" fill="url(#gR)" stroke="#400000" stroke-width="0.7"/>
<circle cx="384.0" cy="251.9" r="8.7" fill="url(#gR)" stroke="#400000" stroke-width="0.7"/>
<circle cx="421.2" cy="221.8" r="8.7" fill="url(#gR)" stroke="#400000" stroke-width="0.7"/>
<circle cx="421.2" cy="251.9" r="8.7" fill="url(#gR)" stroke="#400000" stroke-width="0.7"/>
<circle cx="458.4" cy="221.8" r="8.7" fill="url(#gR)" stroke="#400000" stroke-width="0.7"/>
<circle cx="458.4" cy="251.9" r="8.7" fill="url(#gR)" stroke="#400000" stroke-width="0.7"/>
<circle cx="235.2" cy="300.4" r="8.7" fill="url(#gR)" stroke="#400000" stroke-width="0.7"/>
<circle cx="235.2" cy="330.5" r="8.7" fill="url(#gR)" stroke="#400000" stroke-width="0.7"/>
<circle cx="272.4" cy="300.4" r="8.7" fill="url(#gR)" stroke="#400000" stroke-width="0.7"/>
<circle cx="272.4" cy="330.5" r="8.7" fill="url(#gR)" stroke="#400000" stroke-width="0.7"/>
<circle cx="309.6" cy="300.4" r="8.7" fill="url(#gR)" stroke="#400000" stroke-width="0.7"/>
<circle cx="309.6" cy="330.5" r="8.7" fill="url(#gR)" stroke="#400000" stroke-width="0.7"/>
<circle cx="346.8" cy="300.4" r="8.7" fill="url(#gR)" stroke="#400000" stroke-width="0.7"/>
<circle cx="346.8" cy="330.5" r="8.7" fill="url(#gR)" stroke="#400000" stroke-width="0.7"/>
<circle cx="384.0" cy="300.4" r="8.7" fill="url(#gR)" stroke="#400000" stroke-width="0.7"/>
<circle cx="384.0" cy="330.5" r="8.7" fill="url(#gR)" stroke="#400000" stroke-width="0.7"/>
<circle cx="421.2" cy="300.4" r="8.7" fill="url(#gR)" stroke="#400000" stroke-width="0.7"/>
<circle cx="421.2" cy="330.5" r="8.7" fill="url(#gR)" stroke="#400000" stroke-width="0.7"/>
<circle cx="458.4" cy="300.4" r="8.7" fill="url(#gR)" stroke="#400000" stroke-width="0.7"/>
<circle cx="458.4" cy="330.5" r="8.7" fill="url(#gR)" stroke="#400000" stroke-width="0.7"/>
<circle cx="235.2" cy="379.0" r="8.7" fill="url(#gR)" stroke="#400000" stroke-width="0.7"/>
<circle cx="235.2" cy="409.1" r="8.7" fill="url(#gR)" stroke="#400000" stroke-width="0.7"/>
<circle cx="272.4" cy="379.0" r="8.7" fill="url(#gR)" stroke="#400000" stroke-width="0.7"/>
<circle cx="272.4" cy="409.1" r="8.7" fill="url(#gR)" stroke="#400000" stroke-width="0.7"/>
<circle cx="309.6" cy="379.0" r="8.7" fill="url(#gR)" stroke="#400000" stroke-width="0.7"/>
<circle cx="309.6" cy="409.1" r="8.7" fill="url(#gR)" stroke="#400000" stroke-width="0.7"/>
<circle cx="346.8" cy="379.0" r="8.7" fill="url(#gR)" stroke="#400000" stroke-width="0.7"/>
<circle cx="346.8" cy="409.1" r="8.7" fill="url(#gR)" stroke="#400000" stroke-width="0.7"/>
<circle cx="384.0" cy="379.0" r="8.7" fill="url(#gR)" stroke="#400000" stroke-width="0.7"/>
<circle cx="384.0" cy="409.1" r="8.7" fill="url(#gR)" stroke="#400000" stroke-width="0.7"/>
<circle cx="421.2" cy="379.0" r="8.7" fill="url(#gR)" stroke="#400000" stroke-width="0.7"/>
<circle cx="421.2" cy="409.1" r="8.7" fill="url(#gR)" stroke="#400000" stroke-width="0.7"/>
<circle cx="458.4" cy="379.0" r="8.7" fill="url(#gR)" stroke="#400000" stroke-width="0.7"/>
<circle cx="458.4" cy="409.1" r="8.7" fill="url(#gR)" stroke="#400000" stroke-width="0.7"/>
<circle cx="253.8" cy="118.9" r="8.6" fill="url(#gR)" stroke="#400000" stroke-width="0.7"/>
<circle cx="291.0" cy="118.9" r="8.6" fill="url(#gR)" stroke="#400000" stroke-width="0.7"/>
<circle cx="328.2" cy="118.9" r="8.6" fill="url(#gR)" stroke="#400000" stroke-width="0.7"/>
<circle cx="365.4" cy="118.9" r="8.6" fill="url(#gR)" stroke="#400000" stroke-width="0.7"/>
<circle cx="402.6" cy="118.9" r="8.6" fill="url(#gR)" stroke="#400000" stroke-width="0.7"/>
<circle cx="439.8" cy="118.9" r="8.6" fill="url(#gR)" stroke="#400000" stroke-width="0.7"/>
<circle cx="477.0" cy="118.9" r="8.6" fill="url(#gR)" stroke="#400000" stroke-width="0.7"/>
<circle cx="253.8" cy="197.5" r="8.6" fill="url(#gR)" stroke="#400000" stroke-width="0.7"/>
<circle cx="291.0" cy="197.5" r="8.6" fill="url(#gR)" stroke="#400000" stroke-width="0.7"/>
<circle cx="328.2" cy="197.5" r="8.6" fill="url(#gR)" stroke="#400000" stroke-width="0.7"/>
<circle cx="365.4" cy="197.5" r="8.6" fill="url(#gR)" stroke="#400000" stroke-width="0.7"/>
<circle cx="402.6" cy="197.5" r="8.6" fill="url(#gR)" stroke="#400000" stroke-width="0.7"/>
<circle cx="439.8" cy="197.5" r="8.6" fill="url(#gR)" stroke="#400000" stroke-width="0.7"/>
<circle cx="477.0" cy="197.5" r="8.6" fill="url(#gR)" stroke="#400000" stroke-width="0.7"/>
<circle cx="253.8" cy="276.2" r="8.6" fill="url(#gR)" stroke="#400000" stroke-width="0.7"/>
<circle cx="291.0" cy="276.2" r="8.6" fill="url(#gR)" stroke="#400000" stroke-width="0.7"/>
<circle cx="328.2" cy="276.2" r="8.6" fill="url(#gR)" stroke="#400000" stroke-width="0.7"/>
<circle cx="365.4" cy="276.2" r="8.6" fill="url(#gR)" stroke="#400000" stroke-width="0.7"/>
<circle cx="402.6" cy="276.2" r="8.6" fill="url(#gR)" stroke="#400000" stroke-width="0.7"/>
<circle cx="439.8" cy="276.2" r="8.6" fill="url(#gR)" stroke="#400000" stroke-width="0.7"/>
<circle cx="477.0" cy="276.2" r="8.6" fill="url(#gR)" stroke="#400000" stroke-width="0.7"/>
<circle cx="253.8" cy="354.8" r="8.6" fill="url(#gR)" stroke="#400000" stroke-width="0.7"/>
<circle cx="291.0" cy="354.8" r="8.6" fill="url(#gR)" stroke="#400000" stroke-width="0.7"/>
<circle cx="328.2" cy="354.8" r="8.6" fill="url(#gR)" stroke="#400000" stroke-width="0.7"/>
<circle cx="365.4" cy="354.8" r="8.6" fill="url(#gR)" stroke="#400000" stroke-width="0.7"/>
<circle cx="402.6" cy="354.8" r="8.6" fill="url(#gR)" stroke="#400000" stroke-width="0.7"/>
<circle cx="439.8" cy="354.8" r="8.6" fill="url(#gR)" stroke="#400000" stroke-width="0.7"/>
<circle cx="477.0" cy="354.8" r="8.6" fill="url(#gR)" stroke="#400000" stroke-width="0.7"/>
<circle cx="346.8" cy="252.0" r="8.7" fill="url(#gY)" stroke="#404000" stroke-width="0.7"/>
<circle cx="365.4" cy="276.2" r="8.6" fill="url(#gG)" stroke="#043004" stroke-width="0.7"/>
<g stroke="#222" stroke-width="0.9">
<line x1="267" y1="182.4" x2="419" y2="182.4"/><line x1="267" y1="341.1" x2="419" y2="341.1"/>
<line x1="283.3" y1="168" x2="283.3" y2="354"/><line x1="394.5" y1="168" x2="394.5" y2="354"/>
</g></g>
</svg>
<svg style="position:absolute;left:0;top:0" width="1024" height="390" viewBox="0 0 1024 390">
<line x1="17.9" y1="364.9" x2="22" y2="338.5" stroke="#18d818" stroke-width="2.8"/>
<polygon points="17,340.5 22,328.5 27,340.5" fill="#18d818"/>
<line x1="17.4" y1="364.9" x2="43.8" y2="364.9" stroke="#e81818" stroke-width="2.8"/>
<polygon points="41.8,359.9 53.8,364.9 41.8,369.9" fill="#e81818"/>
<circle cx="17.4" cy="364.9" r="4.5" fill="#10108c"/>
<text x="23.8" y="324.5" font-family="Liberation Sans" font-weight="bold" font-size="9.5" text-anchor="middle" fill="#111">b</text>
<text x="61.5" y="368" font-family="Liberation Sans" font-weight="bold" font-size="9.5" text-anchor="middle" fill="#111">a</text>
<text x="17.4" y="367.4" font-family="Liberation Sans" font-weight="bold" font-size="7" fill="#9090c0" text-anchor="middle">c</text>
</svg>
<svg style="position:absolute;left:0;top:0" width="1024" height="390" viewBox="0 0 1024 390">
<line x1="259.5" y1="364.4" x2="259.7" y2="338.5" stroke="#18d818" stroke-width="2.8"/>
<polygon points="254.7,340.5 259.7,328.5 264.7,340.5" fill="#18d818"/>
<line x1="259" y1="364.4" x2="286" y2="364.4" stroke="#e81818" stroke-width="2.8"/>
<polygon points="284,359.4 296,364.4 284,369.4" fill="#e81818"/>
<circle cx="259" cy="364.4" r="4.5" fill="#10108c"/>
<text x="259.7" y="323.5" font-family="Liberation Sans" font-weight="bold" font-size="9.5" text-anchor="middle" fill="#111">b</text>
<text x="304.4" y="367.6" font-family="Liberation Sans" font-weight="bold" font-size="9.5" text-anchor="middle" fill="#111">a</text>
<text x="259" y="366.9" font-family="Liberation Sans" font-weight="bold" font-size="7" fill="#9090c0" text-anchor="middle">c</text>
</svg>
<svg style="position:absolute;left:0;top:0" width="1024" height="390" viewBox="0 0 1024 390">
<rect x="482.2" y="166.3" width="226.3" height="166.8" fill="none" stroke="#1e1e1e" stroke-width="1.1"/>
<path d="M487.2 333.1v-1.7M487.2 166.3v1.7M492.3 333.1v-3.5M492.3 166.3v3.5M497.4 333.1v-1.7M497.4 166.3v1.7M502.6 333.1v-1.7M502.6 166.3v1.7M507.7 333.1v-1.7M507.7 166.3v1.7M512.8 333.1v-3.5M512.8 166.3v3.5M517.9 333.1v-1.7M517.9 166.3v1.7M523.1 333.1v-1.7M523.1 166.3v1.7M528.2 333.1v-1.7M528.2 166.3v1.7M533.3 333.1v-3.5M533.3 166.3v3.5M538.4 333.1v-1.7M538.4 166.3v1.7M543.6 333.1v-1.7M543.6 166.3v1.7M548.7 333.1v-1.7M548.7 166.3v1.7M553.8 333.1v-3.5M553.8 166.3v3.5M559.0 333.1v-1.7M559.0 166.3v1.7M564.1 333.1v-1.7M564.1 166.3v1.7M569.2 333.1v-1.7M569.2 166.3v1.7M574.3 333.1v-3.5M574.3 166.3v3.5M579.5 333.1v-1.7M579.5 166.3v1.7M584.6 333.1v-1.7M584.6 166.3v1.7M589.7 333.1v-1.7M589.7 166.3v1.7M594.9 333.1v-3.5M594.9 166.3v3.5M600.0 333.1v-1.7M600.0 166.3v1.7M605.1 333.1v-1.7M605.1 166.3v1.7M610.2 333.1v-1.7M610.2 166.3v1.7M615.4 333.1v-3.5M615.4 166.3v3.5M620.5 333.1v-1.7M620.5 166.3v1.7M625.6 333.1v-1.7M625.6 166.3v1.7M630.7 333.1v-1.7M630.7 166.3v1.7M635.9 333.1v-3.5M635.9 166.3v3.5M641.0 333.1v-1.7M641.0 166.3v1.7M646.1 333.1v-1.7M646.1 166.3v1.7M651.3 333.1v-1.7M651.3 166.3v1.7M656.4 333.1v-3.5M656.4 166.3v3.5M661.5 333.1v-1.7M661.5 166.3v1.7M666.6 333.1v-1.7M666.6 166.3v1.7M671.8 333.1v-1.7M671.8 166.3v1.7M676.9 333.1v-3.5M676.9 166.3v3.5M682.0 333.1v-1.7M682.0 166.3v1.7M687.1 333.1v-1.7M687.1 166.3v1.7M692.3 333.1v-1.7M692.3 166.3v1.7M697.4 333.1v-3.5M697.4 166.3v3.5M702.5 333.1v-1.7M702.5 166.3v1.7M707.7 333.1v-1.7M707.7 166.3v1.7M482.2 328.3h1.7M708.5 328.3h-1.7M482.2 323.6h1.7M708.5 323.6h-1.7M482.2 318.8h1.7M708.5 318.8h-1.7M482.2 314.0h1.7M708.5 314.0h-1.7M482.2 309.3h3.5M708.5 309.3h-3.5M482.2 304.5h1.7M708.5 304.5h-1.7M482.2 299.7h1.7M708.5 299.7h-1.7M482.2 295.0h1.7M708.5 295.0h-1.7M482.2 290.2h1.7M708.5 290.2h-1.7M482.2 285.5h3.5M708.5 285.5h-3.5M482.2 280.7h1.7M708.5 280.7h-1.7M482.2 275.9h1.7M708.5 275.9h-1.7M482.2 271.2h1.7M708.5 271.2h-1.7M482.2 266.4h1.7M708.5 266.4h-1.7M482.2 261.6h3.5M708.5 261.6h-3.5M482.2 256.9h1.7M708.5 256.9h-1.7M482.2 252.1h1.7M708.5 252.1h-1.7M482.2 247.3h1.7M708.5 247.3h-1.7M482.2 242.6h1.7M708.5 242.6h-1.7M482.2 237.8h3.5M708.5 237.8h-3.5M482.2 233.0h1.7M708.5 233.0h-1.7M482.2 228.3h1.7M708.5 228.3h-1.7M482.2 223.5h1.7M708.5 223.5h-1.7M482.2 218.7h1.7M708.5 218.7h-1.7M482.2 214.0h3.5M708.5 214.0h-3.5M482.2 209.2h1.7M708.5 209.2h-1.7M482.2 204.4h1.7M708.5 204.4h-1.7M482.2 199.7h1.7M708.5 199.7h-1.7M482.2 194.9h1.7M708.5 194.9h-1.7M482.2 190.1h3.5M708.5 190.1h-3.5M482.2 185.4h1.7M708.5 185.4h-1.7M482.2 180.6h1.7M708.5 180.6h-1.7M482.2 175.8h1.7M708.5 175.8h-1.7M482.2 171.1h1.7M708.5 171.1h-1.7" stroke="#1e1e1e" stroke-width="0.9" fill="none"/>
<text x="492.3" y="344.8" font-family="Liberation Sans" font-weight="bold" font-size="9.2" text-anchor="middle" fill="#1e1e1e">0</text>
<text x="512.8" y="344.8" font-family="Liberation Sans" font-weight="bold" font-size="9.2" text-anchor="middle" fill="#1e1e1e">10</text>
<text x="533.3" y="344.8" font-family="Liberation Sans" font-weight="bold" font-size="9.2" text-anchor="middle" fill="#1e1e1e">20</text>
<text x="553.8" y="344.8" font-family="Liberation Sans" font-weight="bold" font-size="9.2" text-anchor="middle" fill="#1e1e1e">30</text>
<text x="574.3" y="344.8" font-family="Liberation Sans" font-weight="bold" font-size="9.2" text-anchor="middle" fill="#1e1e1e">40</text>
<text x="594.9" y="344.8" font-family="Liberation Sans" font-weight="bold" font-size="9.2" text-anchor="middle" fill="#1e1e1e">50</text>
<text x="615.4" y="344.8" font-family="Liberation Sans" font-weight="bold" font-size="9.2" text-anchor="middle" fill="#1e1e1e">60</text>
<text x="635.9" y="344.8" font-family="Liberation Sans" font-weight="bold" font-size="9.2" text-anchor="middle" fill="#1e1e1e">70</text>
<text x="656.4" y="344.8" font-family="Liberation Sans" font-weight="bold" font-size="9.2" text-anchor="middle" fill="#1e1e1e">80</text>
<text x="676.9" y="344.8" font-family="Liberation Sans" font-weight="bold" font-size="9.2" text-anchor="middle" fill="#1e1e1e">90</text>
<text x="697.4" y="344.8" font-family="Liberation Sans" font-weight="bold" font-size="9.2" text-anchor="middle" fill="#1e1e1e">100</text>
<circle cx="492.3" cy="193.9" r="3.15" fill="none" stroke="#3535ee" stroke-width="1.4"/>
<circle cx="517.9" cy="203.6" r="3.15" fill="none" stroke="#3535ee" stroke-width="1.4"/>
<circle cx="543.6" cy="220.1" r="3.15" fill="none" stroke="#3535ee" stroke-width="1.4"/>
<circle cx="569.2" cy="227.5" r="3.15" fill="none" stroke="#3535ee" stroke-width="1.4"/>
<circle cx="594.9" cy="248.4" r="3.15" fill="none" stroke="#3535ee" stroke-width="1.4"/>
<circle cx="620.5" cy="256.8" r="3.15" fill="none" stroke="#3535ee" stroke-width="1.4"/>
<circle cx="646.1" cy="282.8" r="3.15" fill="none" stroke="#3535ee" stroke-width="1.4"/>
<circle cx="671.8" cy="292.5" r="3.15" fill="none" stroke="#3535ee" stroke-width="1.4"/>
<circle cx="697.4" cy="306.8" r="3.15" fill="none" stroke="#3535ee" stroke-width="1.4"/>
<rect x="489.9" y="185.3" width="4.9" height="4.9" fill="none" stroke="#e83535" stroke-width="1.3"/>
<rect x="524.0" y="190.0" width="4.9" height="4.9" fill="none" stroke="#e83535" stroke-width="1.3"/>
<rect x="558.2" y="192.7" width="4.9" height="4.9" fill="none" stroke="#e83535" stroke-width="1.3"/>
<rect x="592.4" y="201.2" width="4.9" height="4.9" fill="none" stroke="#e83535" stroke-width="1.3"/>
<rect x="626.6" y="208.4" width="4.9" height="4.9" fill="none" stroke="#e83535" stroke-width="1.3"/>
<rect x="660.8" y="217.2" width="4.9" height="4.9" fill="none" stroke="#e83535" stroke-width="1.3"/>
<rect x="695.0" y="228.2" width="4.9" height="4.9" fill="none" stroke="#e83535" stroke-width="1.3"/>
<circle cx="503.1" cy="300.9" r="2.85" fill="none" stroke="#3535ee" stroke-width="1.3"/>
<rect x="500.5" y="312.6" width="4.8" height="4.8" fill="none" stroke="#e83535" stroke-width="1.2"/>
</svg>
<svg style="position:absolute;left:0;top:0" width="1024" height="390" viewBox="0 0 1024 390">
<rect x="788.0" y="166.4" width="217.39999999999998" height="176.79999999999998" fill="none" stroke="#1e1e1e" stroke-width="1.1"/>
<path d="M798.1 343.2v-2.1M798.1 166.4v2.1M808.0 343.2v-4.0M808.0 166.4v4.0M817.9 343.2v-2.1M817.9 166.4v2.1M827.7 343.2v-2.1M827.7 166.4v2.1M837.6 343.2v-2.1M837.6 166.4v2.1M847.5 343.2v-2.1M847.5 166.4v2.1M857.4 343.2v-4.0M857.4 166.4v4.0M867.2 343.2v-2.1M867.2 166.4v2.1M877.1 343.2v-2.1M877.1 166.4v2.1M887.0 343.2v-2.1M887.0 166.4v2.1M896.8 343.2v-2.1M896.8 166.4v2.1M906.7 343.2v-4.0M906.7 166.4v4.0M916.6 343.2v-2.1M916.6 166.4v2.1M926.4 343.2v-2.1M926.4 166.4v2.1M936.3 343.2v-2.1M936.3 166.4v2.1M946.2 343.2v-2.1M946.2 166.4v2.1M956.0 343.2v-4.0M956.0 166.4v4.0M965.9 343.2v-2.1M965.9 166.4v2.1M975.8 343.2v-2.1M975.8 166.4v2.1M985.7 343.2v-2.1M985.7 166.4v2.1M995.5 343.2v-2.1M995.5 166.4v2.1M788.0 178.2h2.1M1005.4 178.2h-2.1M788.0 190.0h4.0M1005.4 190.0h-4.0M788.0 201.7h2.1M1005.4 201.7h-2.1M788.0 213.5h4.0M1005.4 213.5h-4.0M788.0 225.3h2.1M1005.4 225.3h-2.1M788.0 237.1h4.0M1005.4 237.1h-4.0M788.0 248.9h2.1M1005.4 248.9h-2.1M788.0 260.6h4.0M1005.4 260.6h-4.0M788.0 272.4h2.1M1005.4 272.4h-2.1M788.0 284.2h4.0M1005.4 284.2h-4.0M788.0 296.0h2.1M1005.4 296.0h-2.1M788.0 307.8h4.0M1005.4 307.8h-4.0M788.0 319.5h2.1M1005.4 319.5h-2.1M788.0 331.3h4.0M1005.4 331.3h-4.0" stroke="#1e1e1e" stroke-width="0.9" fill="none"/>
<polyline points="788.3,310.2 924.5,210.3 1005.4,266.3" fill="none" stroke="#2cf02c" stroke-width="1.8"/>
<circle cx="920.1" cy="203" r="3.4" fill="none" stroke="#3535ee" stroke-width="1.4"/><circle cx="920.1" cy="203" r="0.75" fill="#3535ee"/>
<circle cx="888.6" cy="218.1" r="3.4" fill="none" stroke="#3535ee" stroke-width="1.4"/><circle cx="888.6" cy="218.1" r="0.75" fill="#3535ee"/>
<circle cx="939.9" cy="228.6" r="3.4" fill="none" stroke="#3535ee" stroke-width="1.4"/><circle cx="939.9" cy="228.6" r="0.75" fill="#3535ee"/>
<circle cx="884.7" cy="253.3" r="3.4" fill="none" stroke="#3535ee" stroke-width="1.4"/><circle cx="884.7" cy="253.3" r="0.75" fill="#3535ee"/>
<circle cx="893.2" cy="290.2" r="3.4" fill="none" stroke="#3535ee" stroke-width="1.4"/><circle cx="893.2" cy="290.2" r="0.75" fill="#3535ee"/>
<circle cx="938" cy="318.9" r="3.4" fill="none" stroke="#3535ee" stroke-width="1.4"/><circle cx="938" cy="318.9" r="0.75" fill="#3535ee"/>
<rect x="802.1" y="247.0" width="5.8" height="5.8" fill="none" stroke="#e83535" stroke-width="1.4"/><rect x="804.3" y="249.2" width="1.4" height="1.4" fill="#e83535"/>
<rect x="895.9" y="242.4" width="5.8" height="5.8" fill="none" stroke="#e83535" stroke-width="1.4"/><rect x="898.1" y="244.6" width="1.4" height="1.4" fill="#e83535"/>
<rect x="908.4" y="245.6" width="5.8" height="5.8" fill="none" stroke="#e83535" stroke-width="1.4"/><rect x="910.6" y="247.8" width="1.4" height="1.4" fill="#e83535"/>
<rect x="918.2" y="242.4" width="5.8" height="5.8" fill="none" stroke="#e83535" stroke-width="1.4"/><rect x="920.4" y="244.6" width="1.4" height="1.4" fill="#e83535"/>
<rect x="964.8" y="233.9" width="5.8" height="5.8" fill="none" stroke="#e83535" stroke-width="1.4"/><rect x="967.0" y="236.1" width="1.4" height="1.4" fill="#e83535"/>
<rect x="935.4" y="328.6" width="5.8" height="5.8" fill="none" stroke="#e83535" stroke-width="1.4"/><rect x="937.6" y="330.8" width="1.4" height="1.4" fill="#e83535"/>
</svg>
<svg style="position:absolute;left:0;top:0" width="1024" height="390">
<text transform="translate(132.79,37.8) scale(0.9847,1)" font-family="Liberation Sans" font-size="22" font-weight="bold" font-style="normal" fill="#111" stroke="#111" stroke-width="0.45">First-principles</text>
<text transform="translate(294.73,37.8) scale(0.9972,1)" font-family="Liberation Sans" font-size="22" font-weight="bold" font-style="normal" fill="#111" stroke="#111" stroke-width="0.45">calculation</text>
<text transform="translate(413.47,37.8) scale(0.9488,1)" font-family="Liberation Sans" font-size="22" font-weight="bold" font-style="normal" fill="#111" stroke="#111" stroke-width="0.45">on</text>
<text transform="translate(445.12,37.8) scale(1.0194,1)" font-family="Liberation Sans" font-size="22" font-weight="bold" font-style="normal" fill="#111" stroke="#111" stroke-width="0.45">effects</text>
<text transform="translate(522.02,37.8) scale(1.0131,1)" font-family="Liberation Sans" font-size="22" font-weight="bold" font-style="normal" fill="#111" stroke="#111" stroke-width="0.45">of</text>
<text transform="translate(549.76,37.8) scale(0.9584,1)" font-family="Liberation Sans" font-size="22" font-weight="bold" font-style="normal" fill="#111" stroke="#111" stroke-width="0.45">oxygen</text>
<text transform="translate(629.40,37.8) scale(0.9721,1)" font-family="Liberation Sans" font-size="22" font-weight="bold" font-style="normal" fill="#111" stroke="#111" stroke-width="0.45">vacancy</text>
<text transform="translate(719.27,37.8) scale(0.9447,1)" font-family="Liberation Sans" font-size="22" font-weight="bold" font-style="normal" fill="#111" stroke="#111" stroke-width="0.45">on</text>
<text transform="translate(763.15,37.8) scale(0.9725,1)" font-family="Liberation Sans" font-size="22" font-weight="bold" font-style="normal" fill="#111" stroke="#111" stroke-width="0.45">-MnO</text>
<text transform="translate(832.06,37.8) scale(0.9754,1)" font-family="Liberation Sans" font-size="22" font-weight="bold" font-style="normal" fill="#111" stroke="#111" stroke-width="0.45">and</text>
<text transform="translate(886.46,37.8) scale(0.9652,1)" font-family="Liberation Sans" font-size="22" font-weight="bold" font-style="normal" fill="#111" stroke="#111" stroke-width="0.45">-MnO</text>
<text transform="translate(750.38,37.8) scale(1.0428,1)" font-family="Liberation Sans" font-size="22" font-weight="normal" font-style="normal" fill="#111">α</text>
<text transform="translate(875.78,37.8) scale(0.8517,1)" font-family="Liberation Sans" font-size="22" font-weight="normal" font-style="normal" fill="#111">β</text>
<text transform="translate(818.15,42.3) scale(1.0415,1)" font-family="Liberation Sans" font-size="14.5" font-weight="bold" font-style="normal" fill="#111">2</text>
<text transform="translate(941.33,42.3) scale(1.0697,1)" font-family="Liberation Sans" font-size="14.5" font-weight="bold" font-style="normal" fill="#111">2</text>
<text transform="translate(133.34,63) scale(0.9788,1)" font-family="Liberation Sans" font-size="22" font-weight="bold" font-style="normal" fill="#111" stroke="#111" stroke-width="0.45">during</text>
<text transform="translate(205.67,63) scale(0.9518,1)" font-family="Liberation Sans" font-size="22" font-weight="bold" font-style="normal" fill="#111" stroke="#111" stroke-width="0.45">oxygen</text>
<text transform="translate(284.39,63) scale(0.9881,1)" font-family="Liberation Sans" font-size="22" font-weight="bold" font-style="normal" fill="#111" stroke="#111" stroke-width="0.45">reduction</text>
<text transform="translate(389.37,63) scale(1.0022,1)" font-family="Liberation Sans" font-size="22" font-weight="bold" font-style="normal" fill="#111" stroke="#111" stroke-width="0.45">reaction</text>
<text transform="translate(480.67,63) scale(0.9936,1)" font-family="Liberation Sans" font-size="22" font-weight="bold" font-style="normal" fill="#111" stroke="#111" stroke-width="0.45">for</text>
<text transform="translate(515.17,63) scale(0.9974,1)" font-family="Liberation Sans" font-size="22" font-weight="bold" font-style="normal" fill="#111" stroke="#111" stroke-width="0.45">rechargeable</text>
<text transform="translate(657.76,63) scale(1.0037,1)" font-family="Liberation Sans" font-size="22" font-weight="bold" font-style="normal" fill="#111" stroke="#111" stroke-width="0.45">metal-air</text>
<text transform="translate(755.16,63) scale(1.0092,1)" font-family="Liberation Sans" font-size="22" font-weight="bold" font-style="normal" fill="#111" stroke="#111" stroke-width="0.45">batteries</text>
<text transform="translate(199.16,115.7) scale(1.1159,1)" font-family="Liberation Serif" font-size="24" font-weight="normal" font-style="normal" fill="#1a1a1a">Δ</text>
<text transform="translate(215.48,115.7) scale(0.7506,1)" font-family="Liberation Serif" font-size="24" font-weight="normal" font-style="normal" fill="#1a1a1a">G</text>
<text transform="translate(235.44,115.7) scale(1.1667,1)" font-family="Liberation Serif" font-size="24" font-weight="normal" font-style="normal" fill="#1a1a1a">=</text>
<text transform="translate(257.76,115.7) scale(1.1159,1)" font-family="Liberation Serif" font-size="24" font-weight="normal" font-style="normal" fill="#1a1a1a">Δ</text>
<text transform="translate(274.36,115.7) scale(0.7407,1)" font-family="Liberation Serif" font-size="24" font-weight="normal" font-style="normal" fill="#1a1a1a">E</text>
<text transform="translate(291.85,115.7) scale(1.1579,1)" font-family="Liberation Serif" font-size="24" font-weight="normal" font-style="normal" fill="#1a1a1a">+</text>
<text transform="translate(314.08,115.7) scale(0.9466,1)" font-family="Liberation Serif" font-size="24" font-weight="normal" font-style="normal" fill="#1a1a1a">Z</text>
<text transform="translate(327.71,115.7) scale(0.9848,1)" font-family="Liberation Serif" font-size="24" font-weight="normal" font-style="normal" fill="#1a1a1a">P</text>
<text transform="translate(338.93,115.7) scale(0.7870,1)" font-family="Liberation Serif" font-size="24" font-weight="normal" font-style="normal" fill="#1a1a1a">E</text>
<text transform="translate(357.22,115.7) scale(1.0965,1)" font-family="Liberation Serif" font-size="24" font-weight="normal" font-style="normal" fill="#1a1a1a">−</text>
<text transform="translate(378.68,115.7) scale(0.8908,1)" font-family="Liberation Serif" font-size="24" font-weight="normal" font-style="normal" fill="#1a1a1a">T</text>
<text transform="translate(390.55,115.7) scale(1.0072,1)" font-family="Liberation Serif" font-size="24" font-weight="normal" font-style="normal" fill="#1a1a1a">Δ</text>
<text transform="translate(405.36,115.7) scale(0.9205,1)" font-family="Liberation Serif" font-size="24" font-weight="normal" font-style="normal" fill="#1a1a1a">S</text>
<text transform="translate(423.93,115.7) scale(1.0877,1)" font-family="Liberation Serif" font-size="24" font-weight="normal" font-style="normal" fill="#1a1a1a">−</text>
<text transform="translate(456.89,115.7) scale(0.8455,1)" font-family="Liberation Serif" font-size="24" font-weight="normal" font-style="normal" fill="#1a1a1a">U</text>
<text transform="translate(478.58,115.7) scale(1.1316,1)" font-family="Liberation Serif" font-size="24" font-weight="normal" font-style="normal" fill="#1a1a1a">−</text>
<text transform="translate(522.19,115.7) scale(0.8693,1)" font-family="Liberation Serif" font-size="24" font-weight="normal" font-style="normal" fill="#1a1a1a">T</text>
<text transform="translate(535.80,115.7) scale(0.8333,1)" font-family="Liberation Serif" font-size="24" font-weight="normal" font-style="normal" fill="#1a1a1a">l</text>
<text transform="translate(541.38,115.7) scale(1.0842,1)" font-family="Liberation Serif" font-size="24" font-weight="normal" font-style="normal" fill="#1a1a1a">n</text>
<text transform="translate(554.29,115.7) scale(1.0329,1)" font-family="Liberation Serif" font-size="24" font-weight="normal" font-style="normal" fill="#1a1a1a">1</text>
<text transform="translate(565.08,115.7) scale(1.0950,1)" font-family="Liberation Serif" font-size="24" font-weight="normal" font-style="normal" fill="#1a1a1a">0</text>
<text transform="translate(581.32,115.7) scale(1.3755,1)" font-family="Liberation Serif" font-size="24" font-weight="normal" font-style="normal" fill="#1a1a1a">×</text>
<text transform="translate(606.72,115.7) scale(1.0463,1)" font-family="Liberation Serif" font-size="24" font-weight="normal" font-style="normal" fill="#1a1a1a">p</text>
<text transform="translate(618.66,115.7) scale(0.9017,1)" font-family="Liberation Serif" font-size="24" font-weight="normal" font-style="normal" fill="#1a1a1a">H</text>
<text transform="translate(445.52,115.7) scale(1.0865,1)" font-family="Liberation Serif" font-size="24" font-weight="normal" font-style="italic" fill="#1a1a1a">e</text>
<text transform="translate(500.95,115.7) scale(1.0824,1)" font-family="Liberation Serif" font-size="24" font-weight="normal" font-style="italic" fill="#1a1a1a">k</text>
<text transform="translate(512.53,118.2) scale(0.9244,1)" font-family="Liberation Serif" font-size="16" font-weight="normal" font-style="normal" fill="#1a1a1a">B</text>
<text transform="translate(711.39,110) scale(1.2179,1)" font-family="Liberation Serif" font-size="26" font-weight="normal" font-style="italic" fill="#1a1a1a">η</text>
<text transform="translate(722.78,116.3) scale(0.8612,1)" font-family="Liberation Serif" font-size="18" font-weight="normal" font-style="normal" fill="#1a1a1a">ORR</text>
<text transform="translate(762.67,110) scale(1.1336,1)" font-family="Liberation Serif" font-size="26" font-weight="normal" font-style="normal" fill="#1a1a1a">=</text>
<text transform="translate(787.84,110) scale(0.8815,1)" font-family="Liberation Serif" font-size="26" font-weight="normal" font-style="normal" fill="#1a1a1a">U</text>
<text transform="translate(820.56,110) scale(1.1417,1)" font-family="Liberation Serif" font-size="26" font-weight="normal" font-style="normal" fill="#1a1a1a">−</text>
<text transform="translate(845.17,110) scale(1.0254,1)" font-family="Liberation Serif" font-size="26" font-weight="normal" font-style="normal" fill="#1a1a1a">max</text>
<text transform="translate(890.94,110) scale(1.0160,1)" font-family="Liberation Serif" font-size="26" font-weight="normal" font-style="normal" fill="#1a1a1a">(</text>
<text transform="translate(901.31,110) scale(0.9766,1)" font-family="Liberation Serif" font-size="26" font-weight="normal" font-style="normal" fill="#1a1a1a">Δ</text>
<text transform="translate(919.22,110) scale(0.7457,1)" font-family="Liberation Serif" font-size="26" font-weight="normal" font-style="normal" fill="#1a1a1a">G</text>
<text transform="translate(934.46,110) scale(0.9467,1)" font-family="Liberation Serif" font-size="26" font-weight="normal" font-style="normal" fill="#1a1a1a">)</text>
<text transform="translate(942.80,110) scale(1.2225,1)" font-family="Liberation Serif" font-size="26" font-weight="normal" font-style="normal" fill="#1a1a1a">/</text>
<text transform="translate(803.31,113.9) scale(1.0404,1)" font-family="Liberation Serif" font-size="19" font-weight="normal" font-style="normal" fill="#1a1a1a">0</text>
<text transform="translate(951.68,110) scale(0.9250,1)" font-family="Liberation Serif" font-size="26" font-weight="normal" font-style="italic" fill="#1a1a1a">e</text>
<text transform="translate(80.18,162.4) scale(1.2753,1)" font-family="Liberation Sans" font-size="12.5" font-weight="bold" font-style="normal" fill="#111">(a)</text>
<text transform="translate(101.91,162.4) scale(1.3804,1)" font-family="Liberation Sans" font-size="12.5" font-weight="normal" font-style="normal" fill="#111">α</text>
<text transform="translate(111.51,162.4) scale(1.1250,1)" font-family="Liberation Sans" font-size="12.5" font-weight="bold" font-style="normal" fill="#111">-MnO</text>
<text transform="translate(147.39,165.6) scale(1.2005,1)" font-family="Liberation Sans" font-size="8.5" font-weight="bold" font-style="normal" fill="#111">2</text>
<text transform="translate(156.01,162.4) scale(1.2295,1)" font-family="Liberation Sans" font-size="12.5" font-weight="bold" font-style="normal" fill="#111">(211)</text>
<text transform="translate(287.55,163.5) scale(1.1556,1)" font-family="Liberation Sans" font-size="12.5" font-weight="bold" font-style="normal" fill="#111">(b)</text>
<text transform="translate(310.04,163.5) scale(1.0991,1)" font-family="Liberation Sans" font-size="12.5" font-weight="normal" font-style="italic" fill="#111">β</text>
<text transform="translate(318.32,163.5) scale(1.1024,1)" font-family="Liberation Sans" font-size="12.5" font-weight="bold" font-style="normal" fill="#111">-MnO</text>
<text transform="translate(353.61,166.5) scale(1.1285,1)" font-family="Liberation Sans" font-size="8.5" font-weight="bold" font-style="normal" fill="#111">2</text>
<text transform="translate(362.00,163.5) scale(1.2514,1)" font-family="Liberation Sans" font-size="12.5" font-weight="bold" font-style="normal" fill="#111">(110)</text>
<text transform="translate(61.95,287.3) scale(1.0371,1)" font-family="Liberation Sans" font-size="10.8" font-weight="bold" font-style="normal" fill="#000">O1</text>
<text transform="translate(206.45,287.3) scale(1.0371,1)" font-family="Liberation Sans" font-size="10.8" font-weight="bold" font-style="normal" fill="#000">O1</text>
<text transform="translate(107.93,283) scale(1.0895,1)" font-family="Liberation Sans" font-size="10.8" font-weight="bold" font-style="normal" fill="#000">O2</text>
<text transform="translate(339.13,256.9) scale(1.1206,1)" font-family="Liberation Sans" font-size="10.5" font-weight="bold" font-style="normal" fill="#000">O2</text>
<text transform="translate(357.77,280) scale(1.0141,1)" font-family="Liberation Sans" font-size="10.5" font-weight="bold" font-style="normal" fill="#000">O1</text>
<text transform="translate(464.08,335.61) scale(1.1903,1)" font-family="Liberation Sans" font-size="8.7" font-weight="bold" font-style="normal" fill="#1e1e1e">1.2</text>
<text transform="translate(464.08,311.78) scale(1.1903,1)" font-family="Liberation Sans" font-size="8.7" font-weight="bold" font-style="normal" fill="#1e1e1e">1.3</text>
<text transform="translate(464.10,287.95000000000005) scale(1.1590,1)" font-family="Liberation Sans" font-size="8.7" font-weight="bold" font-style="normal" fill="#1e1e1e">1.4</text>
<text transform="translate(464.08,264.12) scale(1.1812,1)" font-family="Liberation Sans" font-size="8.7" font-weight="bold" font-style="normal" fill="#1e1e1e">1.5</text>
<text transform="translate(464.08,240.28999999999996) scale(1.1903,1)" font-family="Liberation Sans" font-size="8.7" font-weight="bold" font-style="normal" fill="#1e1e1e">1.6</text>
<text transform="translate(464.08,216.46) scale(1.1949,1)" font-family="Liberation Sans" font-size="8.7" font-weight="bold" font-style="normal" fill="#1e1e1e">1.7</text>
<text transform="translate(464.08,192.63) scale(1.1812,1)" font-family="Liberation Sans" font-size="8.7" font-weight="bold" font-style="normal" fill="#1e1e1e">1.8</text>
<text transform="translate(464.08,168.8) scale(1.1903,1)" font-family="Liberation Sans" font-size="8.7" font-weight="bold" font-style="normal" fill="#1e1e1e">1.9</text>
<text transform="translate(542.27,359.2) scale(0.9549,1)" font-family="Liberation Sans" font-size="11.3" font-weight="bold" font-style="normal" fill="#1e1e1e">Oxygen vacancy (%)</text>
<text transform="translate(513.84,303.6) scale(1.0499,1)" font-family="Liberation Sans" font-size="8.5" font-weight="normal" font-style="normal" fill="#333">α–</text>
<text transform="translate(523.88,303.6) scale(1.1271,1)" font-family="Liberation Sans" font-size="8.5" font-weight="bold" font-style="normal" fill="#1e1e1e">MnO</text>
<text transform="translate(544.81,307.0) scale(1.0908,1)" font-family="Liberation Sans" font-size="5.8" font-weight="bold" font-style="normal" fill="#1e1e1e">2</text>
<text transform="translate(550.95,303.6) scale(1.1838,1)" font-family="Liberation Sans" font-size="8.5" font-weight="bold" font-style="normal" fill="#1e1e1e">(211)</text>
<text transform="translate(513.60,317.7) scale(1.0773,1)" font-family="Liberation Sans" font-size="8.5" font-weight="normal" font-style="normal" fill="#333">β–</text>
<text transform="translate(523.88,317.7) scale(1.1271,1)" font-family="Liberation Sans" font-size="8.5" font-weight="bold" font-style="normal" fill="#1e1e1e">MnO</text>
<text transform="translate(544.81,321.09999999999997) scale(1.0908,1)" font-family="Liberation Sans" font-size="5.8" font-weight="bold" font-style="normal" fill="#1e1e1e">2</text>
<text transform="translate(550.13,317.7) scale(1.2269,1)" font-family="Liberation Sans" font-size="8.5" font-weight="bold" font-style="normal" fill="#1e1e1e">(110)</text>
<text transform="translate(798.85,355.3) scale(1.1411,1)" font-family="Liberation Sans" font-size="8.7" font-weight="bold" font-style="normal" fill="#1e1e1e">-1.0</text>
<text transform="translate(848.20,355.3) scale(1.1342,1)" font-family="Liberation Sans" font-size="8.7" font-weight="bold" font-style="normal" fill="#1e1e1e">-0.5</text>
<text transform="translate(899.54,355.3) scale(1.1852,1)" font-family="Liberation Sans" font-size="8.7" font-weight="bold" font-style="normal" fill="#1e1e1e">0.0</text>
<text transform="translate(948.89,355.3) scale(1.1763,1)" font-family="Liberation Sans" font-size="8.7" font-weight="bold" font-style="normal" fill="#1e1e1e">0.5</text>
<text transform="translate(997.97,355.3) scale(1.2081,1)" font-family="Liberation Sans" font-size="8.7" font-weight="bold" font-style="normal" fill="#1e1e1e">1.0</text>
<text transform="translate(770.74,168.70000000000002) scale(1.2482,1)" font-family="Liberation Sans" font-size="8.2" font-weight="bold" font-style="normal" fill="#1e1e1e">0.0</text>
<text transform="translate(770.74,192.26000000000002) scale(1.2482,1)" font-family="Liberation Sans" font-size="8.2" font-weight="bold" font-style="normal" fill="#1e1e1e">0.2</text>
<text transform="translate(770.75,215.82000000000002) scale(1.2159,1)" font-family="Liberation Sans" font-size="8.2" font-weight="bold" font-style="normal" fill="#1e1e1e">0.4</text>
<text transform="translate(770.74,239.38000000000002) scale(1.2482,1)" font-family="Liberation Sans" font-size="8.2" font-weight="bold" font-style="normal" fill="#1e1e1e">0.6</text>
<text transform="translate(770.74,262.94) scale(1.2388,1)" font-family="Liberation Sans" font-size="8.2" font-weight="bold" font-style="normal" fill="#1e1e1e">0.8</text>
<text transform="translate(770.47,286.5) scale(1.2723,1)" font-family="Liberation Sans" font-size="8.2" font-weight="bold" font-style="normal" fill="#1e1e1e">1.0</text>
<text transform="translate(770.47,310.06) scale(1.2723,1)" font-family="Liberation Sans" font-size="8.2" font-weight="bold" font-style="normal" fill="#1e1e1e">1.2</text>
<text transform="translate(770.49,333.62000000000006) scale(1.2388,1)" font-family="Liberation Sans" font-size="8.2" font-weight="bold" font-style="normal" fill="#1e1e1e">1.4</text>
<text transform="translate(821.10,376.9) scale(1.1870,1)" font-family="Liberation Sans" font-size="10" font-weight="normal" font-style="normal" fill="#1e1e1e">Δ</text>
<text transform="translate(828.64,376.9) scale(1.0678,1)" font-family="Liberation Sans" font-size="13.2" font-weight="bold" font-style="normal" fill="#1e1e1e">G(*OOH)</text>
<text transform="translate(888.71,376.9) scale(0.9848,1)" font-family="Liberation Sans" font-size="13.2" font-weight="bold" font-style="normal" fill="#1e1e1e">–</text>
<text transform="translate(898.51,376.9) scale(1.1707,1)" font-family="Liberation Sans" font-size="10" font-weight="normal" font-style="normal" fill="#1e1e1e">Δ</text>
<text transform="translate(906.25,376.9) scale(1.0420,1)" font-family="Liberation Sans" font-size="13.2" font-weight="bold" font-style="normal" fill="#1e1e1e">G(*O)</text>
<text transform="translate(945.65,376.9) scale(1.0882,1)" font-family="Liberation Sans" font-size="13.2" font-weight="bold" font-style="normal" fill="#1e1e1e">(eV)</text>
<text transform="translate(906.40,197.2) scale(1.0431,1)" font-family="Liberation Sans" font-size="8" font-weight="bold" font-style="normal" fill="#3535ee">12.50%</text>
<text transform="translate(854.46,219.6) scale(1.0399,1)" font-family="Liberation Sans" font-size="8" font-weight="bold" font-style="normal" fill="#3535ee">Perfect</text>
<text transform="translate(907.36,230.5) scale(0.9813,1)" font-family="Liberation Sans" font-size="8" font-weight="bold" font-style="normal" fill="#3535ee">25.00%</text>
<text transform="translate(863.41,266.2) scale(1.0315,1)" font-family="Liberation Sans" font-size="8" font-weight="bold" font-style="normal" fill="#3535ee">62.50%</text>
<text transform="translate(897.75,294.2) scale(1.0412,1)" font-family="Liberation Sans" font-size="8" font-weight="bold" font-style="normal" fill="#3535ee">50.00%</text>
<text transform="translate(810.26,248.8) scale(1.0437,1)" font-family="Liberation Sans" font-size="8" font-weight="bold" font-style="normal" fill="#e83535">Perfect</text>
<text transform="translate(896.54,240.3) scale(1.0269,1)" font-family="Liberation Sans" font-size="8" font-weight="bold" font-style="normal" fill="#e83535">33.33%</text>
<text transform="translate(925.70,248.6) scale(1.0393,1)" font-family="Liberation Sans" font-size="8" font-weight="bold" font-style="normal" fill="#e83535">16.66%</text>
<text transform="translate(909.66,260.1) scale(1.0150,1)" font-family="Liberation Sans" font-size="8" font-weight="bold" font-style="normal" fill="#e83535">50.00%</text>
<text transform="translate(962.81,232.2) scale(1.0465,1)" font-family="Liberation Sans" font-size="8" font-weight="bold" font-style="normal" fill="#e83535">66.66%</text>
<text transform="translate(948.77,322.1) scale(1.0928,1)" font-family="Liberation Sans" font-size="7.5" font-weight="normal" font-style="normal" fill="#333">α–</text>
<text transform="translate(957.98,322.1) scale(1.0572,1)" font-family="Liberation Sans" font-size="7.5" font-weight="bold" font-style="normal" fill="#1e1e1e">MnO</text>
<text transform="translate(975.56,324.5) scale(0.9027,1)" font-family="Liberation Sans" font-size="5.2" font-weight="bold" font-style="normal" fill="#1e1e1e">2</text>
<text transform="translate(980.42,322.1) scale(1.1282,1)" font-family="Liberation Sans" font-size="7.5" font-weight="bold" font-style="normal" fill="#1e1e1e">(211)</text>
<text transform="translate(948.55,334.2) scale(1.1213,1)" font-family="Liberation Sans" font-size="7.5" font-weight="normal" font-style="normal" fill="#333">β–</text>
<text transform="translate(957.98,334.2) scale(1.0572,1)" font-family="Liberation Sans" font-size="7.5" font-weight="bold" font-style="normal" fill="#1e1e1e">MnO</text>
<text transform="translate(975.56,337.3) scale(0.9027,1)" font-family="Liberation Sans" font-size="5.2" font-weight="bold" font-style="normal" fill="#1e1e1e">2</text>
<text transform="translate(979.60,334.2) scale(1.1770,1)" font-family="Liberation Sans" font-size="7.5" font-weight="bold" font-style="normal" fill="#1e1e1e">(110)</text>
<g transform="rotate(-90)">
<text transform="translate(-285.35,455.4) scale(0.9509,1)" font-family="Liberation Sans" font-size="13" font-weight="bold" font-style="normal" fill="#1e1e1e">Average</text>
<text transform="translate(-234.97,457.4) scale(0.8996,1)" font-family="Liberation Sans" font-size="12" font-weight="normal" font-style="normal" fill="#1e1e1e">Δδ</text>
<text transform="translate(-221.86,459.5) scale(1.1970,1)" font-family="Liberation Sans" font-size="7.2" font-weight="bold" font-style="normal" fill="#1e1e1e">Mn-top</text>
<text transform="translate(-327.34,758.7) scale(1.0833,1)" font-family="Liberation Sans" font-size="12.5" font-weight="bold" font-style="normal" fill="#1e1e1e">ORR overpotential (V)</text>
</g>
</svg>
</body></html>
